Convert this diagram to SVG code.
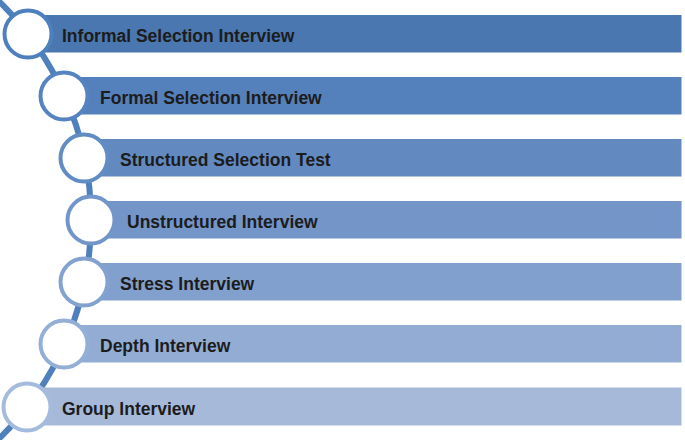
<svg xmlns="http://www.w3.org/2000/svg" width="685" height="440" viewBox="0 0 685 440">
<style>
.lbl{font-family:"Liberation Sans",Arial,sans-serif;font-weight:bold;font-size:17.5px;fill:#1c1c1c}
.dot{fill:#ffffff;stroke-width:4}
</style>
<rect width="685" height="440" fill="#ffffff"/>
<g id="connectors">
<path d="M -2.3 0 A 306 306 0 0 1 -2.3 440" fill="none" stroke="#4f80be" stroke-width="6"/>
</g>
<g id="node1">
<rect x="28" y="15" width="653.5" height="37.5" fill="#4a77b0"/>
<circle class="dot" cx="28" cy="34" r="23.5" stroke="#4f80be"/>
<text class="lbl" x="62" y="41.5">Informal Selection Interview</text>
</g>
<g id="node2">
<rect x="64" y="77" width="617.5" height="37.5" fill="#5481bb"/>
<circle class="dot" cx="64" cy="96" r="23.5" stroke="#5584c0"/>
<text class="lbl" x="100" y="103.5">Formal Selection Interview</text>
</g>
<g id="node3">
<rect x="84" y="139" width="597.5" height="37.5" fill="#628ac1"/>
<circle class="dot" cx="84" cy="158" r="23.5" stroke="#628cc4"/>
<text class="lbl" x="120" y="165.5">Structured Selection Test</text>
</g>
<g id="node4">
<rect x="91" y="201" width="590.5" height="37.5" fill="#7395c8"/>
<circle class="dot" cx="91" cy="220" r="23.5" stroke="#7396ca"/>
<text class="lbl" x="127" y="227.5">Unstructured Interview</text>
</g>
<g id="node5">
<rect x="84" y="263" width="597.5" height="37.5" fill="#82a0cd"/>
<circle class="dot" cx="84" cy="282" r="23.5" stroke="#83a2d0"/>
<text class="lbl" x="120" y="289.5">Stress Interview</text>
</g>
<g id="node6">
<rect x="64" y="325" width="617.5" height="37.5" fill="#93acd3"/>
<circle class="dot" cx="64" cy="344" r="23.5" stroke="#94afd6"/>
<text class="lbl" x="100" y="351.5">Depth Interview</text>
</g>
<g id="node7">
<rect x="27" y="387.5" width="654.5" height="38" fill="#a6b9d9"/>
<circle class="dot" cx="27" cy="407" r="23.5" stroke="#a5bbdd"/>
<text class="lbl" x="62" y="414.5">Group Interview</text>
</g>
</svg>
